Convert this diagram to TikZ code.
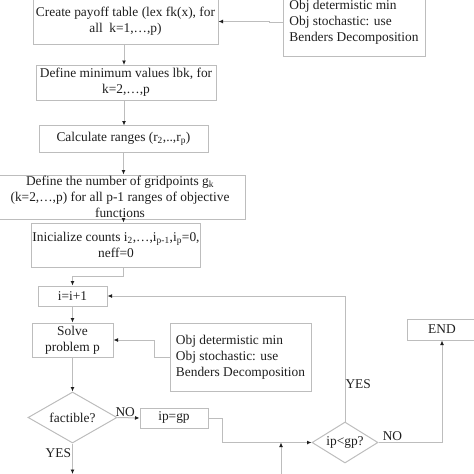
\documentclass[tikz,border=0pt]{standalone}
\usepackage{fontspec}
\setmainfont{Liberation Serif}
\usetikzlibrary{shapes.geometric, arrows.meta}
\definecolor{linegray}{HTML}{BDBDBD}
\definecolor{inkgray}{HTML}{1E1E1E}
\begin{document}
\begin{tikzpicture}[x=1pt, y=-1pt,
    every node/.style={text=inkgray, font=\fontsize{13.4}{16}\selectfont},
    box/.style={draw=linegray, line width=1pt, align=center, inner sep=1pt},
    note/.style={draw=linegray, line width=1pt, align=left, inner sep=1.5pt, anchor=center},
    decision/.style={diamond, draw=linegray, line width=1pt, inner sep=0pt, aspect=1.6},
    flow/.style={draw=linegray, line width=1pt, -{Latex[length=4.5pt, width=4pt, inkgray]}},
    lbl/.style={inner sep=1pt}]
  \clip (0,0) rectangle (474,474);
  % main column
  \node[box, minimum width=185pt, minimum height=46pt] (payoff) at (125.5,21.5)
    {Create payoff table (lex fk(x), for\\all\ \ k=1,\dots,p)};
  \node[box, minimum width=180pt, minimum height=35pt] (lbk) at (126,82.5)
    {Define minimum values lbk, for\\k=2,\dots,p};
  \node[box, minimum width=169pt, minimum height=27pt] (ranges) at (123.5,138.5)
    {Calculate ranges (r\textsubscript{2},..,r\textsubscript{p})};
  \node[box, minimum width=250pt, minimum height=44pt, inner sep=0pt] (grid) at (120,197)
    {Define the number of gridpoints g\textsubscript{k}\\(k=2,\dots,p) for all p-1 ranges of objective\\functions};
  \node[box, minimum width=168pt, minimum height=44pt] (init) at (116,245)
    {Inicialize counts i\textsubscript{2},\dots,i\textsubscript{p-1},i\textsubscript{p}=0,\\neff=0};
  \node[box, minimum width=69pt, minimum height=20pt] (inc) at (72.5,296) {i=i+1};
  \node[box, minimum width=81pt, minimum height=34pt] (solve) at (72.5,340) {Solve\\problem p};
  \node[decision, minimum width=89pt, minimum height=51pt] (feas) at (72.5,417.5) {factible?};
  \node[box, minimum width=68pt, minimum height=20pt] (setgp) at (174,418) {ip=gp};
  \node[decision, minimum width=66pt, minimum height=41pt] (check) at (345,442.5) {ip<gp?};
  \node[box, minimum width=70pt, minimum height=21pt] (finish) at (442,329.5) {END};
  % side notes
  \node[note, minimum width=142pt, minimum height=67pt] (note1) at (354,22.5)
    {Obj determistic min\\Obj stochastic: use\\Benders Decomposition};
  \node[note, minimum width=141pt, minimum height=68pt] (note2) at (240.5,357)
    {Obj determistic min\\Obj stochastic: use\\Benders Decomposition};
  \coordinate (out1) at (72.5,474);
  \coordinate (in1) at (281,474);
  % connectors
  \draw[flow] (payoff.south -| lbk) ++(-2,0) -- ++(0,20);
  \draw[flow] (lbk.south) ++(-2,0) -- ++(0,25);
  \draw[flow] (ranges.south) ++(0,0) -- (ranges.south |- grid.north);
  \draw[flow] (ranges.south |- grid.south) -- (ranges.south |- init.north);
  \draw[flow] (ranges.south |- init.south) -- ++(0,9) -| (inc.north);
  \draw[flow] (inc) -- (solve);
  \draw[flow] (solve) -- (feas);
  \draw[flow] (feas.south) -- node[pos=0.32, left, lbl] {YES} (out1);
  \draw[flow] (feas.east) -- node[pos=0.35, above, lbl] {NO} (setgp.west);
  \draw[flow] (setgp.east) -- ++(14,0) |- (check.west);
  \draw[flow] (in1) -- (in1 |- check.west);
  \draw[flow] (check.north) |- node[pos=0.15, right, inner sep=0pt] {YES} (inc.east);
  \draw[flow] (check.east) -| node[pos=0.11, above, lbl] {NO} (finish.south);
  \draw[flow] (note2.west) -- ++(-15,0) |- (solve.east);
  \draw[flow] (note1.west) -- ++(-13,0) |- (payoff.east);
\end{tikzpicture}
\end{document}
